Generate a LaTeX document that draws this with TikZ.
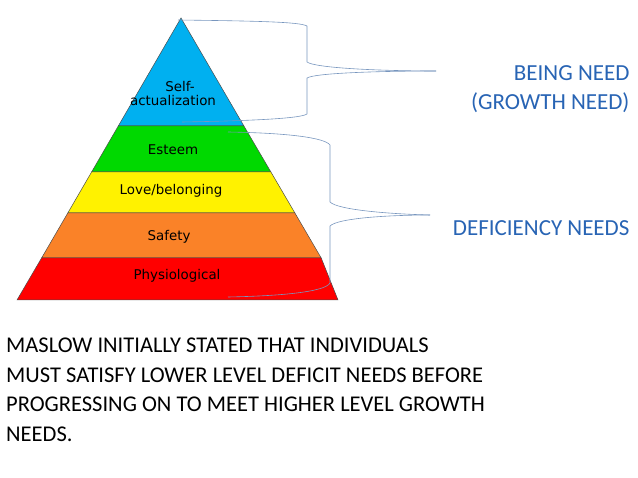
\documentclass[tikz,border=0pt]{standalone}
\usepackage{fontspec}
\setmainfont{Carlito}
\newfontfamily\pyr{DejaVu Sans}
\definecolor{lab}{RGB}{40,100,180}
\definecolor{br}{RGB}{120,150,190}
\definecolor{cblue}{RGB}{0,176,240}
\definecolor{corange}{RGB}{250,130,40}
\begin{document}
\begin{tikzpicture}[x=1pt,y=-1pt,
 band/.style={draw=black!70,line width=0.5pt},
 plab/.style={font=\pyr\fontsize{13.4}{15}\selectfont,align=center},
 rlab/.style={font=\fontsize{23}{29}\selectfont,text=lab,align=right,anchor=east},
 brace/.style={draw=br,line width=0.6pt}]
\useasboundingbox (0,0) rectangle (638,478);
\path[fill=cblue,band] (181,18) -- (118.3,126) -- (243.9,126) -- cycle;
\path[fill=green!85!black,band] (118.3,126) -- (91.6,172) -- (270.9,172) -- (243.9,126) -- cycle;
\path[fill=yellow,band] (91.6,172) -- (67.8,213) -- (294.9,213) -- (270.9,172) -- cycle;
\path[fill=corange,band] (67.8,213) -- (41.6,258) -- (321.2,258) -- (294.9,213) -- cycle;
\path[fill=red,band] (41.6,258) -- (17,300) -- (338,300) -- (321.2,258) -- cycle;
\node[plab] (sa) at (180,94) {Self-\\[-1pt]\hspace*{-14pt}actualization};
\node[plab] (es) at (173,150) {Esteem};
\node[plab] (lb) at (171,191) {Love/belonging};
\node[plab] (sf) at (169,237) {Safety};
\node[plab] (ph) at (177,276) {Physiological};
\coordinate (t1) at (436,71);
\draw[brace] (178,20) .. controls (260,21) and (300,22) .. (307,26) -- (307,62) .. controls (315,68) and (380,71) .. (t1);
\draw[brace] (t1) .. controls (380,71) and (315,73) .. (307,78) -- (307,114) .. controls (300,119) and (240,121) .. (182,122);
\coordinate (t2) at (430,215);
\draw[brace] (228,132) .. controls (290,133) and (325,138) .. (330,145) -- (330,202) .. controls (338,210) and (390,214) .. (t2);
\draw[brace] (t2) .. controls (390,215) and (338,218) .. (330,226) -- (330,283) .. controls (325,292) and (280,296) .. (228,297);
\node[rlab] (bn) at (633,89) {BEING NEED\\(GROWTH NEED)};
\node[rlab] (dn) at (633,228) {DEFICIENCY NEEDS};
\node[font=\fontsize{22.5}{29.5}\selectfont,align=left,anchor=north west,inner sep=0pt] (txt) at (6,338) {MASLOW INITIALLY STATED THAT INDIVIDUALS\\MUST SATISFY LOWER LEVEL DEFICIT NEEDS BEFORE\\PROGRESSING ON TO MEET HIGHER LEVEL GROWTH\\NEEDS.};
\end{tikzpicture}
\end{document}
